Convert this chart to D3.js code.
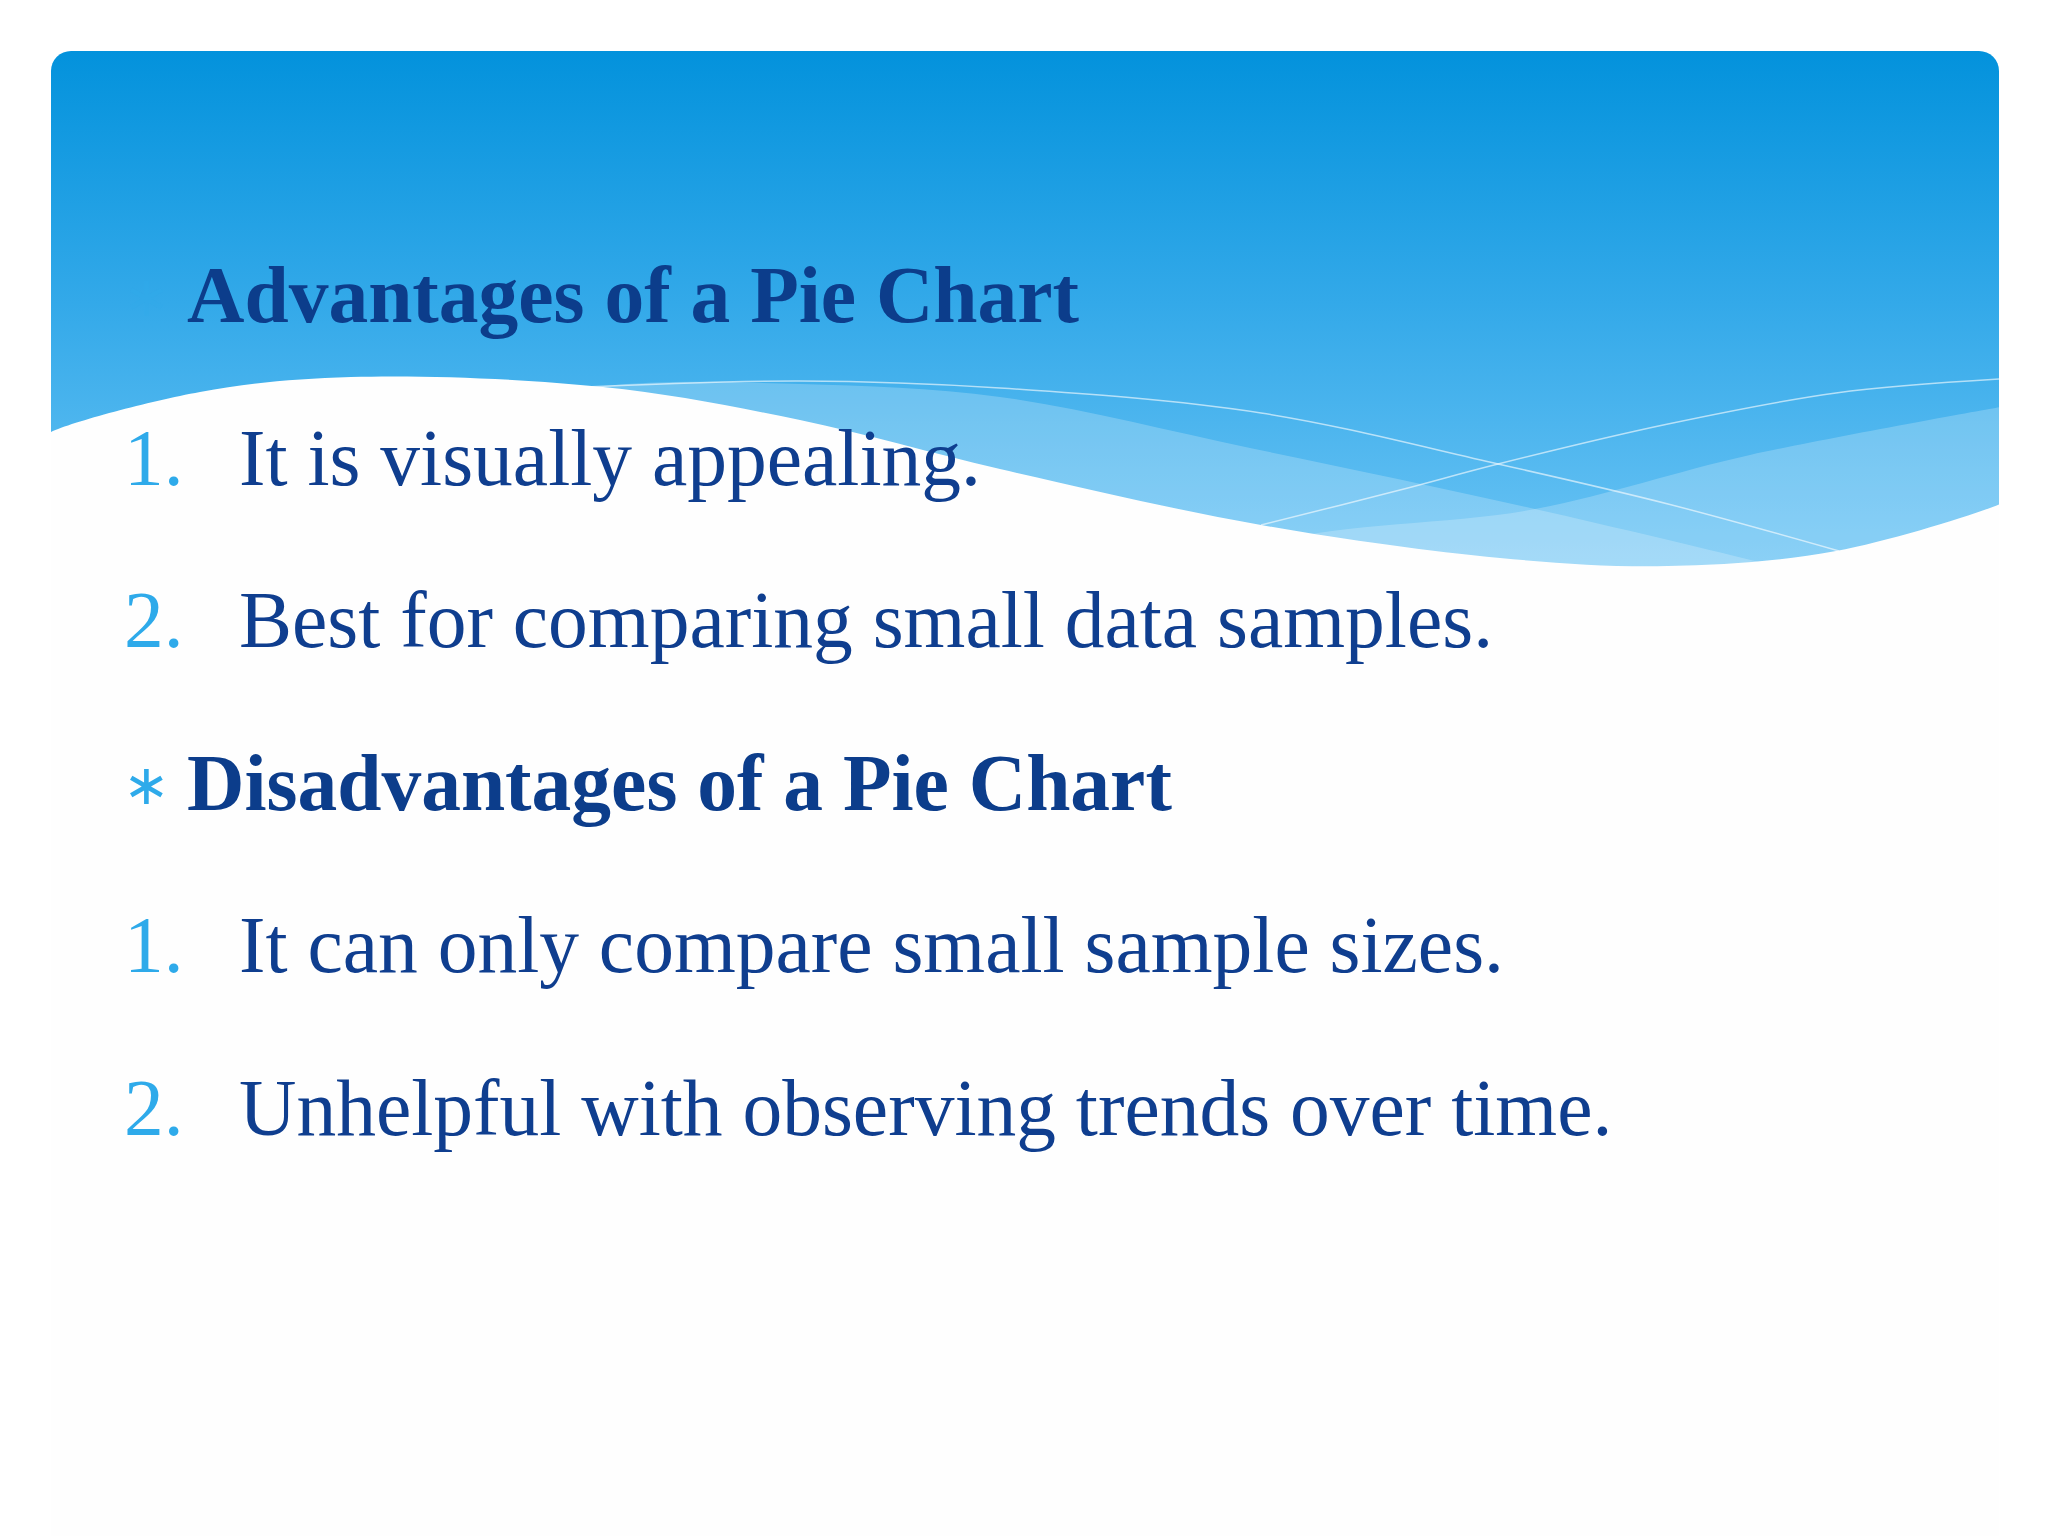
<!DOCTYPE html>
<html>
<head>
<meta charset="utf-8">
<script src="https://cdn.jsdelivr.net/npm/d3@7"></script>
<style>
  html, body { margin: 0; padding: 0; background: #fff; }
  svg { display: block; }
</style>
</head>
<body>
<svg id="slide" width="2048" height="1536"></svg>
<script>
// slide content
const sections = ["Advantages of a Pie Chart", "Disadvantages of a Pie Chart"];
const advantages = ["It is visually appealing.", "Best for comparing small data samples."];
const disadvantages = ["It can only compare small sample sizes.", "Unhelpful with observing trends over time."];

const W = 2048, H = 1536;
const svg = d3.select("#slide");

// rows: heading, item, item, heading, item, item
const rows = [];
[advantages, disadvantages].forEach((items, s) => {
  rows.push({ kind: "head", text: sections[s] });
  items.forEach((t, i) => rows.push({ kind: "item", text: t, num: (i + 1) + "." }));
});

const y = d3.scalePoint()
  .domain(d3.range(rows.length))
  .range([322, 1135]);

const defs = svg.append("defs");
const grad = defs.append("linearGradient")
  .attr("id", "sky").attr("x1", 0).attr("y1", 0).attr("x2", 0).attr("y2", 1);
grad.append("stop").attr("offset", "0%").attr("stop-color", "#0392dc");
grad.append("stop").attr("offset", "45%").attr("stop-color", "#33a9e9");
grad.append("stop").attr("offset", "100%").attr("stop-color", "#74c8f6");

defs.append("clipPath").attr("id", "card")
  .append("rect")
  .attr("x", 51).attr("y", 51).attr("width", 1948).attr("height", 1600).attr("rx", 20);

const card = svg.append("g").attr("clip-path", "url(#card)");

card.append("rect")
  .attr("x", 51).attr("y", 51).attr("width", 1948).attr("height", 1600)
  .attr("fill", "#fefefe");

card.append("rect")
  .attr("x", 51).attr("y", 51).attr("width", 1948).attr("height", 560)
  .attr("fill", "url(#sky)");

const curve = d3.line().curve(d3.curveCatmullRom.alpha(0.5));

// translucent light bands
const bandA = [[380, 430], [603, 386], [800, 384], [1000, 397], [1250, 448], [1535, 509], [1800, 572], [1950, 610]];
const bandB = [[1050, 640], [1261, 545], [1535, 509], [1750, 455], [2000, 407]];
[bandA, bandB].forEach(pts => {
  const last = pts[pts.length - 1], first = pts[0];
  card.append("path")
    .attr("d", curve(pts) + `L${last[0]},700L${first[0]},700Z`)
    .attr("fill", "#ffffff").attr("fill-opacity", 0.22);
});

// thin highlight lines
const line1 = [[560, 388], [800, 381], [1000, 388], [1261, 413], [1498, 464], [1668, 504], [1839, 551]];
const line2 = [[1261, 525], [1400, 490], [1498, 464], [1668, 424], [1836, 393], [2000, 379]];
[line1, line2].forEach(pts => {
  card.append("path").attr("d", curve(pts))
    .attr("fill", "none").attr("stroke", "#ffffff")
    .attr("stroke-opacity", 0.6).attr("stroke-width", 1.5);
});

// white wave
const wave = [[40, 440], [51, 432], [200, 392], [351, 377], [603, 387], [800, 420], [1000, 469], [1261, 525], [1500, 558], [1668, 566], [1836, 551], [2000, 504], [2010, 498]];
card.append("path")
  .attr("d", curve(wave) + "L2010,1700L40,1700Z")
  .attr("fill", "#fefefe");

// text
const textG = svg.append("g")
  .attr("font-family", "'Liberation Serif', 'Times New Roman', serif");

const row = textG.selectAll("g.row")
  .data(rows)
  .join("g")
  .attr("class", "row")
  .attr("transform", (d, i) => `translate(0,${y(i)})`);

row.filter(d => d.kind === "head")
  .append("text")
  .attr("x", 123).attr("y", -6)
  .attr("font-family", "'DejaVu Sans', sans-serif")
  .attr("font-size", 56)
  .attr("fill", "#2eaaea")
  .attr("fill-opacity", (d, i) => i === 0 ? 0.25 : 1)
  .text("\u2217");

row.filter(d => d.kind === "head")
  .append("text")
  .attr("x", 187)
  .attr("font-size", 79.5)
  .attr("font-weight", "bold")
  .attr("fill", "#0c3d8b")
  .text(d => d.text);

row.filter(d => d.kind === "item")
  .append("text")
  .attr("x", 124)
  .attr("font-size", 79.5)
  .attr("fill", "#2eaaea")
  .text(d => d.num);

row.filter(d => d.kind === "item")
  .append("text")
  .attr("x", 239)
  .attr("font-size", 79.5)
  .attr("fill", "#0f3e8f")
  .text(d => d.text);
</script>
</body>
</html>
